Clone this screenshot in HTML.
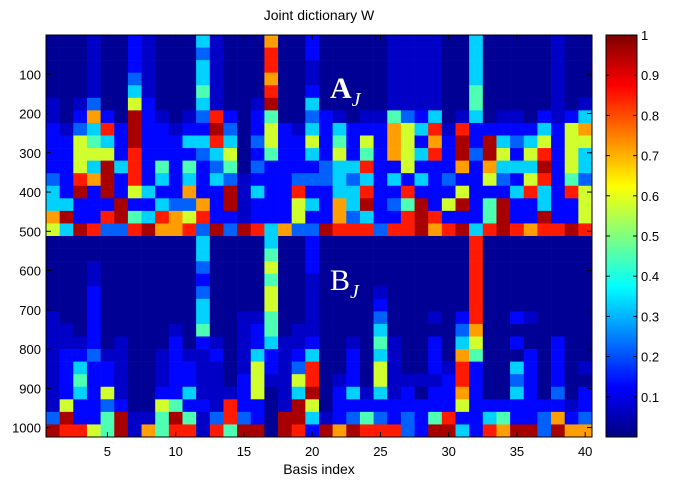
<!DOCTYPE html>
<html><head><meta charset="utf-8"><style>
body{margin:0;background:#fff;}
svg{display:block;font-family:"Liberation Sans",Arial,sans-serif;}
</style></head><body>
<svg id="chart" width="673" height="489" viewBox="0 0 673 489">
<rect width="673" height="489" fill="#fff"/>
<text x="319" y="20" font-size="14" text-anchor="middle" fill="#000">Joint dictionary W</text>
<g id="cells"></g>
<g id="axes"></g>
<text x="330" y="98" font-family="Liberation Serif,serif" font-size="30" font-weight="bold" fill="#fff">A<tspan font-style="italic" font-weight="normal" font-size="20" dy="8">J</tspan></text>
<text x="330" y="290" font-family="Liberation Serif,serif" font-size="30" fill="#fff">B<tspan font-style="italic" font-size="20" dy="8">J</tspan></text>
<text x="319" y="474" font-size="14" text-anchor="middle" fill="#000">Basis index</text>
<g id="cbar"></g>
</svg>
<script>
// each column: 32 bins of 32 rows, digit = intensity level 0..9
const columns = [
"0000011222234476"+"0000001111111139",
"0000000122222494"+"0000000112222698",
"0000012366689229"+"0000000012454228",
"1111137456472228"+"0011222223222226",
"0000002846999283"+"0000000001226355",
"0000000222422993"+"0000000011111299",
"2223469998886258"+"0000000000000011",
"1111122222224249"+"0000000000000017",
"0000001222542487"+"0000000001112655",
"0000000122222377"+"0000000122222598",
"0000001242547368"+"0000000001224258",
"4344543243222783"+"4432344521111211",
"1111118984342229"+"0000000012111138",
"0000002346539923"+"0000000000001885",
"0000000000011119"+"0000001111122239",
"0000012232324228"+"0000001224666229",
"7887895665222224"+"4565665542210000",
"0000000222222227"+"0000000011111199",
"0000000122238663"+"0000000112364998",
"2211243464232423"+"2221111124889642",
"0000002222332229"+"0000000000000019",
"0000001456444778"+"0000000000012227",
"0000000222434438"+"0000000012224239",
"0000001265848948"+"0000000000001258",
"0000001222222223"+"0000123454664238",
"1111115777242328"+"0000000011111228",
"1111113666628588"+"0000000000012233",
"1111112424242999"+"0000000000010222",
"1111114878222287"+"0000001022212259",
"0000000122232628"+"0000000000122289",
"0000001899726929"+"0000002347887624",
"4444554223222224"+"8888888765222222",
"0000000299762558"+"0000000000000248",
"0000001246432999"+"0000000000000257",
"0000001232424228"+"0000002020434229",
"0000000246468227"+"0000001002222229",
"0000002468984498"+"0000000000000233",
"1111111222222228"+"0000000022223279",
"0000002666658229"+"0000000000000127",
"0000014764436668"+"0000000000102237"
];
const levels = [0.02,0.07,0.13,0.22,0.33,0.45,0.58,0.72,0.85,0.96];
const nRows = 1024;
const binRows = 32;
const xTicks = [5,10,15,20,25,30,35,40];
const yTicks = [100,200,300,400,500,600,700,800,900,1000];
const cTicks = [0.1,0.2,0.3,0.4,0.5,0.6,0.7,0.8,0.9,1];

const L=46,R=592,T=35,B=437;
const NS="http://www.w3.org/2000/svg";
function xs(c){return L+(c-0.5)*(R-L)/columns.length;}
function ys(r){return T+r*(B-T)/nRows;}
function cl(v){return Math.max(0,Math.min(1,v));}
function jet(v){const r=cl(1.5-Math.abs(4*v-3)),g=cl(1.5-Math.abs(4*v-2)),b=cl(1.5-Math.abs(4*v-1));
 return "rgb("+Math.round(r*255)+","+Math.round(g*255)+","+Math.round(b*255)+")";}
function mk(tag,attrs,parent){const e=document.createElementNS(NS,tag);for(const k in attrs)e.setAttribute(k,attrs[k]);parent.appendChild(e);return e;}

const cells=document.getElementById('cells');
columns.forEach((s,ci)=>{
 for(let b=0;b<s.length;b++){
  const d=+s[b];
  const x0=xs(ci+0.5),x1=xs(ci+1.5),y0=ys(b*binRows),y1=ys((b+1)*binRows);
  const r=mk('rect',{x:x0,y:y0,width:x1-x0+0.3,height:y1-y0+0.3,fill:jet(levels[d])},cells);
  
  
 }
});
const ax=document.getElementById('axes');
const frame=mk('rect',{x:L,y:T,width:R-L,height:B-T,fill:'none',stroke:'#000','stroke-width':1},ax);


xTicks.forEach(t=>{
 const x=xs(t);
 mk('line',{x1:x,x2:x,y1:B,y2:B-5,stroke:'#000'},ax);
 mk('line',{x1:x,x2:x,y1:T,y2:T+5,stroke:'#000'},ax);
 const tx=mk('text',{x:x,y:B+19,'font-size':13,'text-anchor':'middle'},ax);
 tx.textContent=t;
 
 
});
yTicks.forEach(t=>{
 const y=ys(t);
 mk('line',{x1:L,x2:L+5,y1:y,y2:y,stroke:'#000'},ax);
 mk('line',{x1:R,x2:R-5,y1:y,y2:y,stroke:'#000'},ax);
 const tx=mk('text',{x:L-5,y:y+5,'font-size':13,'text-anchor':'end'},ax);
 tx.textContent=t;
 
 
});
const cb=document.getElementById('cbar');
const CL=606,CR=637;
function cy(v){return B-v*(B-T);}
for(let i=0;i<200;i++){
 const v0=i/200,v1=(i+1)/200;
 mk('rect',{x:CL,y:cy(v1),width:CR-CL,height:cy(v0)-cy(v1)+0.4,fill:jet((v0+v1)/2)},cb);
}
const cf=mk('rect',{x:CL,y:T,width:CR-CL,height:B-T,fill:'none',stroke:'#000'},cb);


cTicks.forEach(t=>{
 const y=cy(t);
 mk('line',{x1:CR,x2:CR-4,y1:y,y2:y,stroke:'#000'},cb);
 mk('line',{x1:CL,x2:CL+4,y1:y,y2:y,stroke:'#000'},cb);
 const tx=mk('text',{x:CR+4,y:y+5,'font-size':13},cb);
 tx.textContent=t;
 
 
});
</script>
</body></html>
